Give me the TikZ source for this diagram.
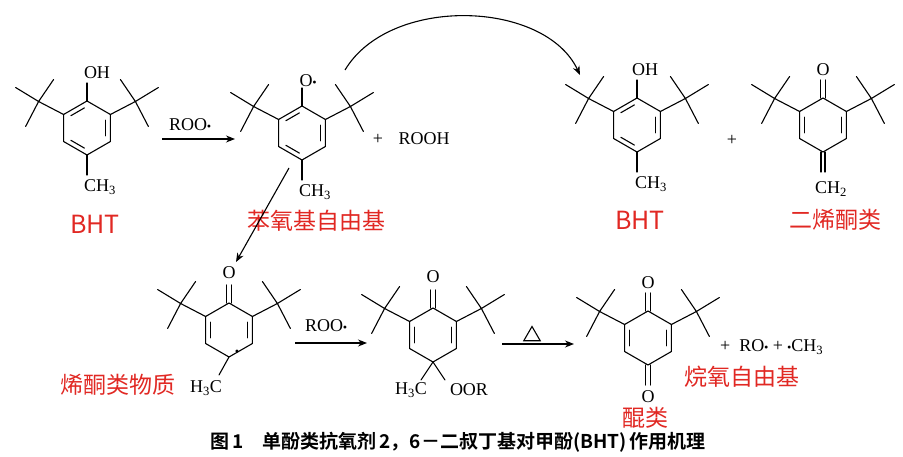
\documentclass[tikz,border=0pt]{standalone}
\usepackage{fontspec}
\setmainfont{Liberation Serif}
\newfontfamily\labfont{Noto Sans CJK SC}
\newfontfamily\capfont{Noto Sans CJK SC Bold}
\usetikzlibrary{calc,arrows.meta,shapes.geometric}
\definecolor{lred}{RGB}{225,40,35}
\newcommand\rad{\raisebox{.3ex}{\scalebox{0.45}{$\bullet$}}}
\newcommand\ringsk[2]{%
  \coordinate (c) at (#1,#2);
  \coordinate (T) at ($(c)+(0,-27)$);
  \coordinate (UL) at ($(c)+(-23.4,-13.5)$);
  \coordinate (UR) at ($(c)+(23.4,-13.5)$);
  \coordinate (LL) at ($(c)+(-23.4,13.5)$);
  \coordinate (LR) at ($(c)+(23.4,13.5)$);
  \coordinate (B) at ($(c)+(0,27)$);
  \foreach \v in {T,UL,UR,LL,LR,B}{\coordinate (i\v) at ($(c)!0.8!(\v)$);}
  \draw[bond] (T)--(UR)--(LR)--(B)--(LL)--(UL)--cycle;
  \coordinate (QL) at ($(UL)+(-25,-13)$);
  \coordinate (QR) at ($(UR)+(25,-13)$);
  \draw[bond] (UL)--(QL) (QL)--++(-23,-14) (QL)--++(15,-22) (QL)--++(-13,25);
  \draw[bond] (UR)--(QR) (QR)--++(23,-14) (QR)--++(-15,-22) (QR)--++(13,25);
}
\newcommand\dbl[2]{\draw[bond] ($(i#1)!0.14!(i#2)$)--($(i#2)!0.14!(i#1)$);}
\tikzset{
  bond/.style={line width=1.1pt,line cap=round},
  chem/.style={font=\fontsize{18}{18}\selectfont,inner sep=0pt},
  lab/.style={font=\labfont\fontsize{23}{23}\selectfont,text=lred,inner sep=0pt},
  rxn/.style={line width=1.1pt,-{Stealth[length=9pt,width=7pt]}},
}
\begin{document}
\begin{tikzpicture}[x=1pt,y=-1pt]
\useasboundingbox[fill=white] (0,0) rectangle (903,457);
% molecule 1: BHT
\ringsk{87}{128}
\dbl{T}{UL}\dbl{UR}{LR}\dbl{LL}{B}
\draw[bond] (T)--++(0,-18) (B)--++(0,20);
\node[chem] (oh1) at (97,73) {OH};
\node[chem] (me1) at (100,187) {CH\textsubscript{3}};
\node[lab,font=\fontsize{25}{25}\selectfont\labfont] (l1) at (95,224) {BHT};
% arrow 1
\node[chem] (roo1) at (190,125) {ROO\rad};
\coordinate (a1s) at (162,139); \coordinate (a1e) at (235,139);
\draw[rxn] (a1s)--(a1e);
% molecule 2: phenoxy radical
\ringsk{302}{133}
\dbl{T}{UL}\dbl{UR}{LR}\dbl{LL}{B}
\draw[bond] (T)--++(0,-18) (B)--++(0,20);
\node[chem] (o2) at (308,81) {O\rad};
\node[chem] (me2) at (315,192) {CH\textsubscript{3}};
\node[lab] (l2) at (316,221) {苯氧基自由基};
\node[chem] (p1) at (378,139) {+};
\node[chem] (rooh) at (424,139) {ROOH};
% curved arrow
\coordinate (c1) at (345,70); \coordinate (c2) at (580,75);
\draw[line width=1.1pt,-{Stealth[length=9pt,width=7pt]}] (c1) .. controls (390,-5) and (545,0) .. (c2);
% down-left arrow
\coordinate (d1) at (289,168); \coordinate (d2) at (236,262);
\draw[rxn] (d1)--(d2);
% molecule 3: BHT
\ringsk{637}{125}
\dbl{T}{UL}\dbl{UR}{LR}\dbl{LL}{B}
\draw[bond] (T)--++(0,-18) (B)--++(0,20);
\node[chem] (oh3) at (645,70) {OH};
\node[chem] (me3) at (651,184) {CH\textsubscript{3}};
\node[lab,font=\fontsize{25}{25}\selectfont\labfont] (l3) at (640,220) {BHT};
\node[chem] (p2) at (732,140) {+};
% molecule 4: quinone methide
\ringsk{823}{125}
\dbl{UL}{LL}\dbl{UR}{LR}
\draw[bond] ($(T)+(-2.5,0)$)--++(0,-18) ($(T)+(2.5,0)$)--++(0,-18);
\draw[bond] ($(B)+(-2,0)$)--++(0,20) ($(B)+(2,0)$)--++(0,20);
\node[chem] (o4) at (823,70) {O};
\node[chem] (ch2) at (831,189) {CH\textsubscript{2}};
\node[lab] (l4) at (835,220) {二烯酮类};
% molecule 5: dienone radical
\ringsk{229}{330}
\dbl{UL}{LL}\dbl{UR}{LR}
\draw[bond] ($(T)+(-2.5,0)$)--++(0,-18) ($(T)+(2.5,0)$)--++(0,-18);
\draw[bond] (B)--++(-10,18);
\node[chem] (o5) at (229,273) {O};
\node[chem] (me5) at (206,388) {H\textsubscript{3}C};
\node[chem] (dot5) at (237,353) {\rad};
\node[lab] (l5) at (118,385) {烯酮类物质};
% arrow 2
\node[chem] (roo2) at (326,326) {ROO\rad};
\coordinate (a2s) at (295,343); \coordinate (a2e) at (367,343);
\draw[rxn] (a2s)--(a2e);
% molecule 6: peroxide
\ringsk{433}{335}
\dbl{UL}{LL}\dbl{UR}{LR}
\draw[bond] ($(T)+(-2.5,0)$)--++(0,-18) ($(T)+(2.5,0)$)--++(0,-18);
\draw[bond] (B)--++(-12,18) (B)--++(12,18);
\node[chem] (o6) at (433,277) {O};
\node[chem] (me6) at (411,390) {H\textsubscript{3}C};
\node[chem] (oor) at (469,390) {OOR};
% arrow 3
\node[draw,line width=1.1pt,regular polygon,regular polygon sides=3,minimum size=19pt,inner sep=0pt] (tri) at (532,336) {};
\coordinate (a3s) at (502,344); \coordinate (a3e) at (574,344);
\draw[rxn] (a3s)--(a3e);
% molecule 7: quinone
\ringsk{648}{338}
\dbl{UL}{LL}\dbl{UR}{LR}
\draw[bond] ($(T)+(-2.5,0)$)--++(0,-18) ($(T)+(2.5,0)$)--++(0,-18);
\draw[bond] ($(B)+(-2.5,0)$)--++(0,20) ($(B)+(2.5,0)$)--++(0,20);
\node[chem] (o7) at (648,283) {O};
\node[chem] (o7b) at (648,397) {O};
\node[lab] (l7) at (645,418) {醌类};
\node[chem,anchor=west] (prod) at (720,347) {+\ \ RO\rad\ +\ \rad CH\textsubscript{3}};
\node[lab] (l8) at (742,377) {烷氧自由基};
% caption
\node[inner sep=0pt,font=\capfont\fontsize{19}{19}\selectfont] (cap) at (458,442) {图\,1\quad 单酚类抗氧剂\,2，6－二叔丁基对甲酚(BHT)\,作用机理};
\end{tikzpicture}
\end{document}
